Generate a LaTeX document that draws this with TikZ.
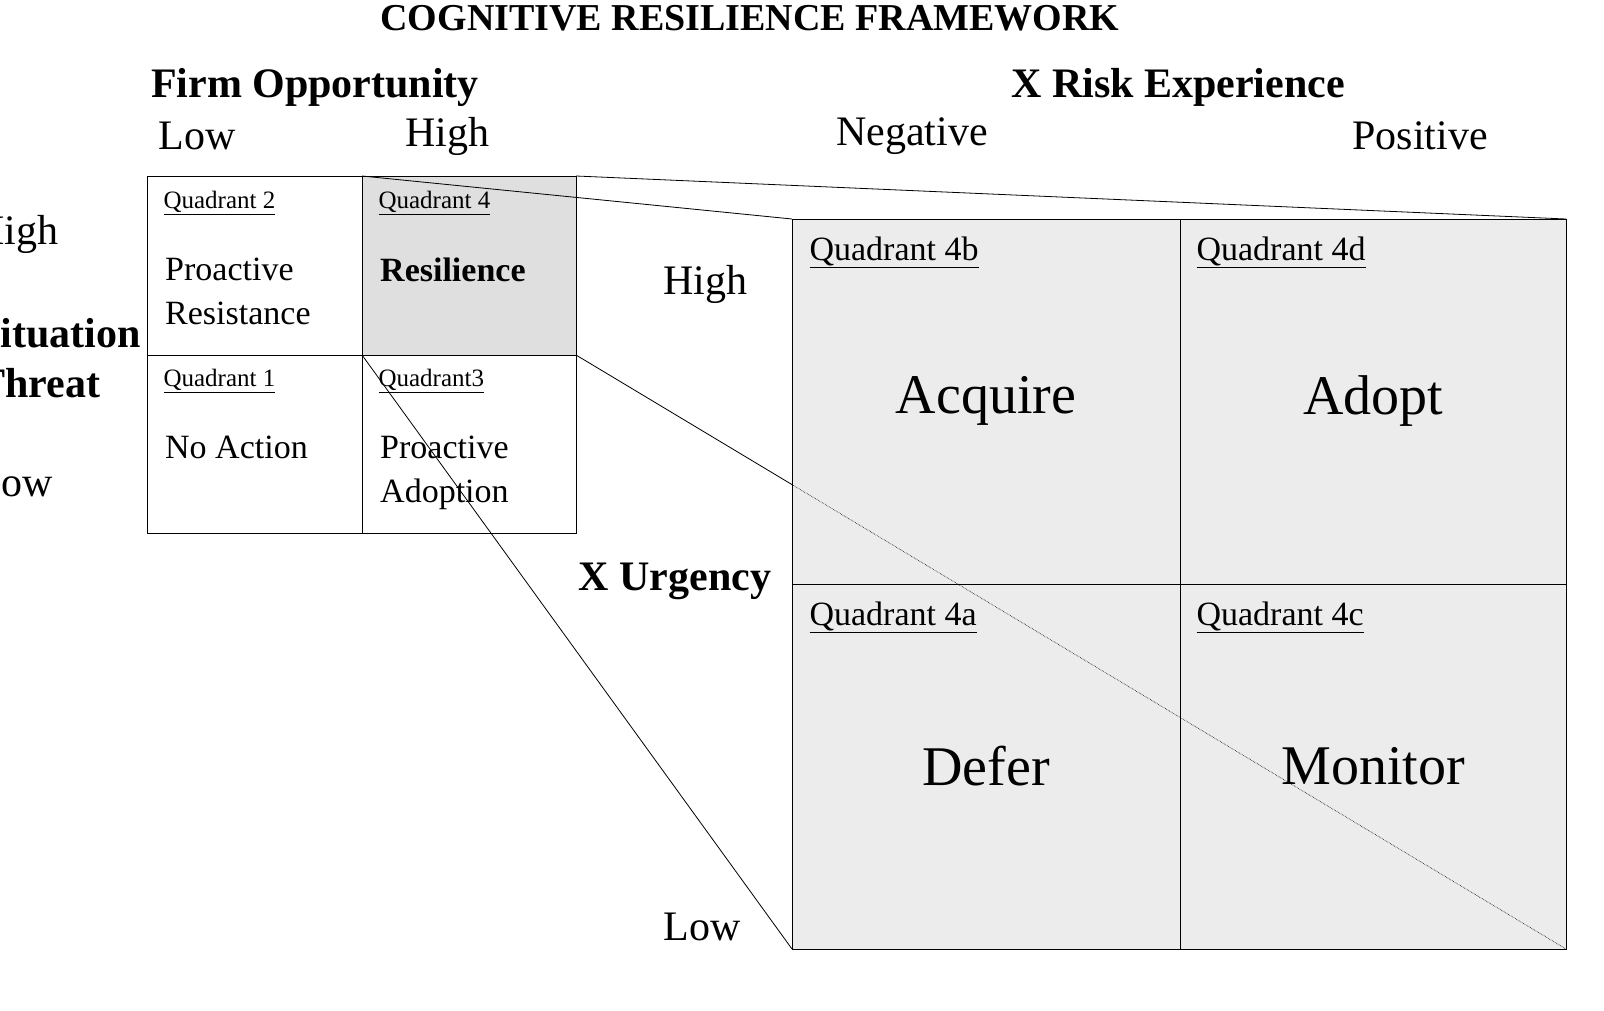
\documentclass[tikz,border=0pt]{standalone}
\usepackage{fontspec}
\setmainfont{Liberation Serif}
\begin{document}
\begin{tikzpicture}[x=1pt,y=-1pt,
  fs/.style={font=\fontsize{#1}{#1}\selectfont},
  ql/.style={anchor=west,fs=25},
  qs/.style={anchor=north west,font=\fontsize{34}{44}\selectfont,align=left,inner sep=0pt},
  bl/.style={anchor=west,fs=34},
  bw/.style={fs=56},
  hd/.style={fs=42}]
\useasboundingbox (0,0) rectangle (1604,1011);
\clip (0,0) rectangle (1604,1011);
% small grid
\fill[gray!25] (362,176) rectangle (576,355);
\draw[line width=0.8pt] (147,176) rectangle (576,533) (362,176)--(362,533) (147,355)--(576,355);
% big grid
\fill[gray!15] (792,219) rectangle (1566,949);
\draw[line width=0.8pt] (792,219) rectangle (1566,949) (1180,219)--(1180,949) (792,584)--(1566,584);
% zoom lines
\coordinate (a) at (362,176); \coordinate (b) at (576,176);
\coordinate (c) at (362,355); \coordinate (d) at (576,355);
\coordinate (A) at (792,219); \coordinate (B) at (1566,219);
\coordinate (C) at (792,949); \coordinate (D) at (1566,949);
\coordinate (M) at (792,484.6);
\draw[line width=0.8pt] (a)--(A) (b)--(B) (c)--(C) (d)--(M);
\draw[densely dotted,line width=0.6pt] (M)--(D);
% titles
\node (t) at (750,18) {\fontsize{38}{38}\selectfont\bfseries COGNITIVE RESILIENCE FRAMEWORK};
\node[hd] (fo) at (315,87) {\bfseries Firm Opportunity};
\node[hd] (lo) at (197,136) {Low};
\node[hd] (hi) at (447,136) {High};
\node[hd] (xr) at (1178,87) {\bfseries X Risk Experience};
\node[hd] (ng) at (912,136) {Negative};
\node[hd] (ps) at (1420,136) {Positive};
\node[hd,anchor=east] (lh) at (62,234) {High};
\node[hd,anchor=east] (ls) at (144,333) {\bfseries Situation};
\node[hd,anchor=east] (lt) at (104,383) {\bfseries Threat};
\node[hd,anchor=east] (ll) at (56,483) {Low};
\node[hd] (uh) at (705,284) {High};
\node[hd] (ux) at (675,581) {\bfseries X Urgency};
\node[hd] (ul) at (702,927) {Low};
% small grid text
\node[ql] (q2) at (160,203) {\underline{Quadrant 2}};
\node[ql] (q4) at (375,203) {\underline{Quadrant 4}};
\node[ql] (q1) at (160,381) {\underline{Quadrant 1}};
\node[ql] (q3) at (375,381) {\underline{Quadrant3}};
\node[qs] (t2) at (165,258) {Proactive\\Resistance};
\node[qs] (t4) at (380,258) {\bfseries Resilience};
\node[qs] (t1) at (165,436) {No Action};
\node[qs] (t3) at (380,436) {Proactive\\Adoption};
% big grid text
\node[bl] (b4b) at (806,252) {\underline{Quadrant 4b}};
\node[bl] (b4d) at (1193,252) {\underline{Quadrant 4d}};
\node[bl] (b4a) at (806,617) {\underline{Quadrant 4a}};
\node[bl] (b4c) at (1193,617) {\underline{Quadrant 4c}};
\node[bw] (acq) at (986,401) {Acquire};
\node[bw] (adp) at (1373,401) {Adopt};
\node[bw] (dfr) at (986,766) {Defer};
\node[bw] (mon) at (1373,766) {Monitor};
\end{tikzpicture}
\end{document}
